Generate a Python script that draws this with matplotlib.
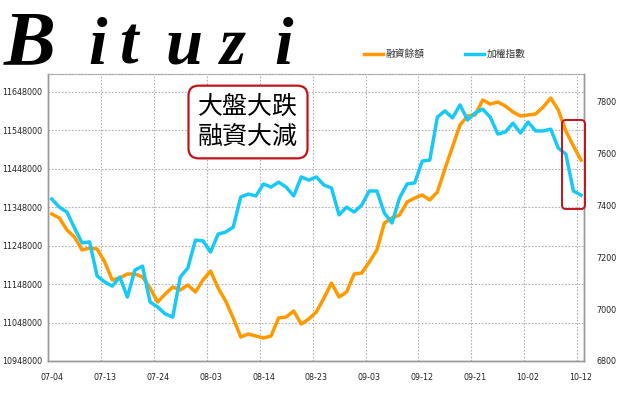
import matplotlib.pyplot as plt
import numpy as np
from matplotlib.patches import FancyBboxPatch

plt.rcParams['font.family'] = ['DejaVu Sans', 'Noto Sans CJK TC']

# tick labels on the date axis (every 7 trading days)
dates = ['07-04', '07-13', '07-24', '08-03', '08-14', '08-23',
         '09-03', '09-12', '09-21', '10-02', '10-12']

# 融資餘額 (left axis)
margin = [11330500, 11320100, 11288900, 11270600, 11236800, 11242000, 11239400,
          11205600, 11158800, 11164000, 11174400, 11174400, 11166600, 11137900,
          11101500, 11122300, 11140500, 11132700, 11145800, 11127500, 11158800,
          11182200, 11137900, 11104100, 11059900, 11010400, 11018300, 11013000,
          11007800, 11013000, 11059900, 11062500, 11078100, 11044300, 11057300,
          11075500, 11111900, 11151000, 11114500, 11127500, 11174400, 11177000,
          11205600, 11236800, 11307100, 11320100, 11327900, 11361700, 11372100,
          11379900, 11366900, 11387700, 11447600, 11504800, 11562100, 11585500,
          11588100, 11627100, 11616700, 11621900, 11611500, 11595900, 11585500,
          11588100, 11590700, 11608900, 11632300, 11601100, 11546500, 11507400,
          11471000]

# 加權指數 (right axis)
taiex = [7423, 7392, 7373, 7312, 7254, 7258, 7127, 7104, 7088, 7123, 7046,
         7150, 7165, 7027, 7008, 6981, 6969, 7123, 7158, 7265, 7262, 7219,
         7288, 7296, 7315, 7431, 7442, 7435, 7481, 7469, 7488, 7469, 7435,
         7508, 7496, 7508, 7477, 7465, 7362, 7392, 7373, 7400, 7454, 7454,
         7369, 7331, 7427, 7481, 7485, 7569, 7573, 7738, 7762, 7735, 7785,
         7727, 7754, 7769, 7738, 7673, 7681, 7715, 7677, 7719, 7685, 7685,
         7692, 7619, 7596, 7454, 7438]

x = np.arange(len(margin))

fig = plt.figure(figsize=(6.2, 3.96), dpi=100)
ax = fig.add_axes([48 / 620, 35 / 396, 536 / 620, 287 / 396])
ax2 = ax.twinx()

l1, = ax.plot(x, margin, color='#FF9900', lw=2.5, label='融資餘額')
l2, = ax2.plot(x, taiex, color='#18C8F5', lw=2.5, label='加權指數')

ax.set_xlim(-0.5, 70.4)
ax.set_ylim(10948000, 11694800)
ax2.set_ylim(6800, 7904)

yt = np.arange(10948000, 11648001, 100000)
ax.set_yticks(yt)
ax.set_yticklabels([str(int(v)) for v in yt])
ax2.set_yticks(np.arange(6800, 7801, 200))

ax.set_xticks(np.arange(0, 71, 7))
ax.set_xticklabels(dates)
ax.set_xticks(np.arange(6.5, 70, 7), minor=True)

grid_kw = dict(color='#B0B0B0', linestyle=(0, (1.5, 1.5)), linewidth=0.8)
ax.grid(which='minor', axis='x', **grid_kw)
ax.grid(which='major', axis='y', **grid_kw)

ax.tick_params(axis='both', which='both', length=0, labelsize=5.8, colors='#222222')
ax.tick_params(axis='x', pad=9)
ax.tick_params(axis='y', pad=4)
ax2.tick_params(axis='y', length=0, labelsize=5.8, colors='#222222', pad=9)

for a in (ax, ax2):
    for s in ('left', 'bottom', 'right'):
        a.spines[s].set_color('#999999')
        a.spines[s].set_linewidth(1.0)
    a.spines['top'].set_color('#AAAAAA')
    a.spines['top'].set_linestyle((0, (1.5, 1.5)))
    a.spines['top'].set_linewidth(0.8)

fig.legend(handles=[l1, l2], loc='center', bbox_to_anchor=(445 / 620, 1 - 54 / 396),
           ncol=2, frameon=False, fontsize=7, handlelength=1.9, handletextpad=0.3,
           columnspacing=4.2, labelcolor='#333333')

# title text box
fig.text(248 / 620, 1 - 122 / 396, '大盤大跌\n融資大減', fontsize=18, ha='center',
         va='center', linespacing=1.3, color='black',
         bbox=dict(boxstyle='round,pad=0.38,rounding_size=0.4', fc='white',
                   ec='#C0141C', lw=1.6))

# red frame around the last days
fig.patches.append(FancyBboxPatch((5.62, 1.87), 0.23, 0.89,
                                  boxstyle='round,pad=0,rounding_size=0.04',
                                  transform=fig.dpi_scale_trans, fill=False,
                                  ec='#C0141C', lw=1.4, figure=fig))

# logo, one letter at a time to get the wide brush spacing
logo = [('B', 4, 56), ('i', 88, 48), ('t', 120, 48), ('u', 166, 48),
        ('z', 220, 48), ('i', 274, 48)]
for ch, px, fs in logo:
    fig.text(px / 620, 1 - 64 / 396, ch, fontsize=fs, family='Liberation Serif',
             style='italic', weight='bold', va='baseline', ha='left', color='black')

fig.savefig('out.png', dpi=100)
